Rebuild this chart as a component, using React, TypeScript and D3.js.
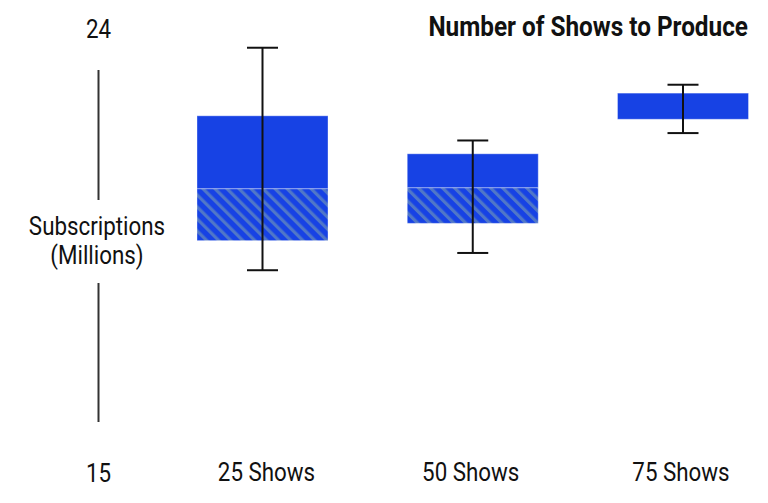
import React from "react";
import * as d3 from "d3";

const categories = ["25 Shows", "50 Shows", "75 Shows"];
const whiskerHigh = [23.6, 21.72, 22.85];
const boxHigh = [22.22, 21.45, 22.68];
const hatchTop: (number | null)[] = [20.74, 20.76, null];
const boxLow = [19.69, 20.04, 22.15];
const whiskerLow = [19.09, 19.44, 21.87];
const yTicks = [15, 24];
const title = "Number of Shows to Produce";
const yLabel = ["Subscriptions", "(Millions)"];

const W = 768;
const H = 503;
const BLUE = "#1742E4";
const STRIPE = "#5077C8";
const FONT = "Roboto, 'Liberation Sans', sans-serif";
const SX = 0.86;

function T(props: {
  x: number;
  y: number;
  anchor?: "start" | "middle" | "end";
  size?: number;
  bold?: boolean;
  children: React.ReactNode;
}) {
  const { x, y, anchor = "middle", size = 26, bold = false, children } = props;
  return (
    <g transform={`translate(${x},${y}) scale(${SX},1)`}>
      <text
        x={0}
        y={0}
        textAnchor={anchor}
        fontFamily={FONT}
        fontWeight={bold ? "bold" : "normal"}
        fontSize={size}
        fill="#111"
      >
        {children}
      </text>
    </g>
  );
}

export default function App() {
  const y = d3.scaleLinear().domain([15, 24]).range([472, 28]);
  const x = d3.scalePoint<string>().domain(categories).range([262.5, 683]);
  const boxW = 131;
  const capW = 31;
  const axisX = 98.5;

  return (
    <svg width={W} height={H} style={{ position: "absolute", left: 0, top: 0 }}>
      <defs>
        <pattern
          id="hatch"
          patternUnits="userSpaceOnUse"
          width={8.5}
          height={8.5}
          patternTransform="rotate(-45)"
        >
          <rect width={8.5} height={8.5} fill={BLUE} />
          <rect x={0} y={0} width={3.2} height={8.5} fill={STRIPE} />
        </pattern>
      </defs>
      <rect width={W} height={H} fill="#fff" />

      <T x={748} y={35.5} anchor="end" size={28.3} bold>
        {title}
      </T>

      {yTicks.map((t) => (
        <T key={t} x={axisX} y={y(t) + 9.5}>
          {t}
        </T>
      ))}
      <line x1={axisX} x2={axisX} y1={y(24) + 42} y2={y(24) + 172} stroke="#333" strokeWidth={2} />
      <line x1={axisX} x2={axisX} y1={y(15) - 189} y2={y(15) - 50} stroke="#333" strokeWidth={2} />
      {yLabel.map((l, i) => (
        <T key={l} x={97} y={235 + i * 29}>
          {l}
        </T>
      ))}

      {categories.map((c, i) => {
        const cx = x(c) as number;
        const ht = hatchTop[i];
        const solidBottom = ht === null ? boxLow[i] : ht;
        return (
          <g key={c}>
            <rect
              x={cx - boxW / 2}
              y={y(boxHigh[i])}
              width={boxW}
              height={y(solidBottom) - y(boxHigh[i])}
              fill={BLUE}
              stroke="#fff"
              strokeOpacity={0.35}
              strokeWidth={1}
            />
            {ht !== null && (
              <rect
                x={cx - boxW / 2}
                y={y(ht)}
                width={boxW}
                height={y(boxLow[i]) - y(ht)}
                fill="url(#hatch)"
                stroke="#fff"
                strokeOpacity={0.35}
                strokeWidth={1}
              />
            )}
            <line x1={cx} x2={cx} y1={y(whiskerHigh[i])} y2={y(whiskerLow[i])} stroke="#111" strokeWidth={2} />
            <line x1={cx - capW / 2} x2={cx + capW / 2} y1={y(whiskerHigh[i])} y2={y(whiskerHigh[i])} stroke="#111" strokeWidth={2} />
            <line x1={cx - capW / 2} x2={cx + capW / 2} y1={y(whiskerLow[i])} y2={y(whiskerLow[i])} stroke="#111" strokeWidth={2} />
            <T x={cx + (i === 0 ? 4 : -2)} y={481}>
              {c}
            </T>
          </g>
        );
      })}
    </svg>
  );
}
